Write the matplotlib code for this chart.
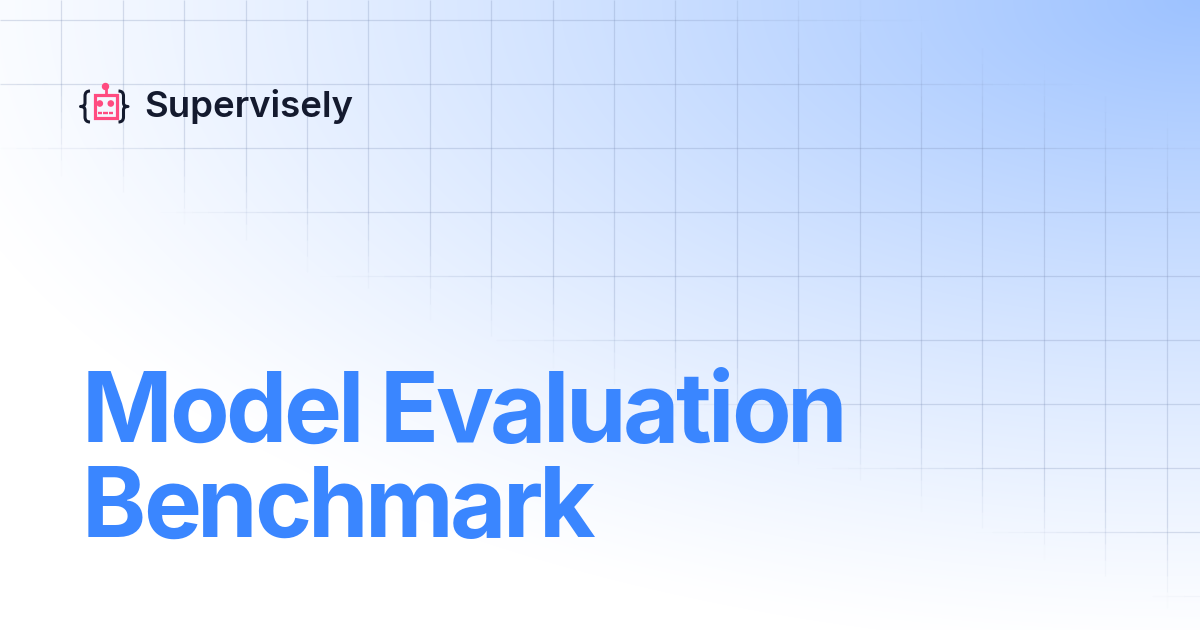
# Supervisely "Model Evaluation Benchmark" banner
import numpy as np
import matplotlib.pyplot as plt
from matplotlib.collections import LineCollection
from matplotlib.patches import Rectangle, Circle, PathPatch
from matplotlib.path import Path
from matplotlib.colors import to_rgba
from matplotlib import font_manager
from matplotlib.ft2font import FT2Font, Kerning

W, H = 1200, 630

# text content
brand = "Supervisely"
title_lines = ["Model Evaluation", "Benchmark"]

# colours
title_color = "#3A86FF"
brand_color = "#141A2E"
logo_pink = "#FF4B80"
bg_blue = np.array([157, 194, 255]) / 255.0
grid_color = "#7A8CB4"

# grid layout (pixels)
grid_x = 61.4 * np.arange(1, 20)
grid_y = 20 + 64 * np.arange(0, 10)

fig = plt.figure(figsize=(12, 6.3), dpi=100)
ax = fig.add_axes([0, 0, 1, 1])
ax.set_xlim(0, W)
ax.set_ylim(H, 0)
ax.axis("off")

# background: elliptical gradient from the top right corner to white
yy, xx = np.mgrid[0:H, 0:W] + 0.5
r = np.sqrt(((W - xx) / 1300.0) ** 2 + (yy / 650.0) ** 2)
t = np.clip(1 - r, 0, 1) ** 1.15
bg = 1 - t[..., None] * (1 - bg_blue)
ax.imshow(bg, extent=(0, W, H, 0), interpolation="bilinear", zorder=0)


def grid_alpha(x, y):
    s = y - 0.39 * x
    lower = np.clip((150 - s) / 80.0, 0, 1)
    upper = np.clip((s + 340) / 100.0, 0, 1)
    return 0.27 * lower * upper


segs, alphas = [], []
step = 16
for gx in grid_x:
    ys = np.arange(0, H + step, step)
    for a, b in zip(ys[:-1], ys[1:]):
        segs.append([(gx, a), (gx, b)])
        alphas.append(grid_alpha(gx, (a + b) / 2))
for gy in grid_y:
    xs = np.arange(0, W + step, step)
    for a, b in zip(xs[:-1], xs[1:]):
        segs.append([(a, gy), (b, gy)])
        alphas.append(grid_alpha((a + b) / 2, gy))
cols = [to_rgba(grid_color, a) for a in alphas]
ax.add_collection(LineCollection(segs, colors=cols, linewidths=0.9, zorder=1))

# logo: curly braces
def brace(x_in, x_out, sign):
    # sign = +1 left brace, -1 right brace
    xm = x_in + sign * 5
    verts = [(x_in, 91), (xm, 91), (xm, 96), (xm, 103), (xm, 106.5), (x_out, 106.5),
             (xm, 106.5), (xm, 110), (xm, 117), (xm, 122), (x_in, 122)]
    codes = [Path.MOVETO, Path.CURVE3, Path.CURVE3, Path.LINETO, Path.CURVE3, Path.CURVE3,
             Path.CURVE3, Path.CURVE3, Path.LINETO, Path.CURVE3, Path.CURVE3]
    return PathPatch(Path(verts, codes), fill=False, edgecolor=brand_color, lw=2.2,
                     capstyle="butt", joinstyle="round", zorder=3)


ax.add_patch(brace(90, 80.5, -1))
ax.add_patch(brace(118.5, 128, 1))

# logo: robot
ax.add_patch(Rectangle((94.5, 94.5), 22, 23.5, fill=False, edgecolor=logo_pink, lw=2.3, zorder=3))
ax.plot([105.5, 105.5], [87, 94], color=logo_pink, lw=2.0, zorder=3)
ax.add_patch(Circle((105.5, 86.5), 3, color=logo_pink, zorder=3))
ax.add_patch(Circle((99.8, 103.5), 2.6, color=logo_pink, zorder=3))
ax.add_patch(Circle((110.8, 103.5), 2.6, color=logo_pink, zorder=3))
for x0 in (97.5, 103.3, 109.1):
    ax.plot([x0, x0 + 4.2], [112.5, 112.5], color=logo_pink, lw=1.7,
            solid_capstyle="butt", zorder=3)

ax.text(144, 117, brand, fontsize=26.3, fontfamily="Inter", fontweight="semibold",
        color=brand_color, va="baseline", ha="left", zorder=3)

# title with tight letter spacing
title_size = 70
tracking = -3.5  # px between letters
fp = font_manager.FontProperties(family="Inter", weight="bold")
ft = FT2Font(font_manager.findfont(fp))
ft.set_size(title_size, 100)


def tracked_text(x, y, s):
    prev = None
    for ch in s:
        idx = ft.get_char_index(ord(ch))
        if prev is not None:
            x += ft.get_kerning(prev, idx, Kerning.DEFAULT) / 64.0
        ax.text(x, y, ch, fontproperties=fp, fontsize=title_size, color=title_color,
                va="baseline", ha="left", zorder=3)
        g = ft.load_char(ord(ch))
        x += g.linearHoriAdvance / 65536.0 + tracking
        prev = idx


for i, line in enumerate(title_lines):
    tracked_text(82, 442 + 95 * i, line)

fig.savefig("out.png", dpi=100)
